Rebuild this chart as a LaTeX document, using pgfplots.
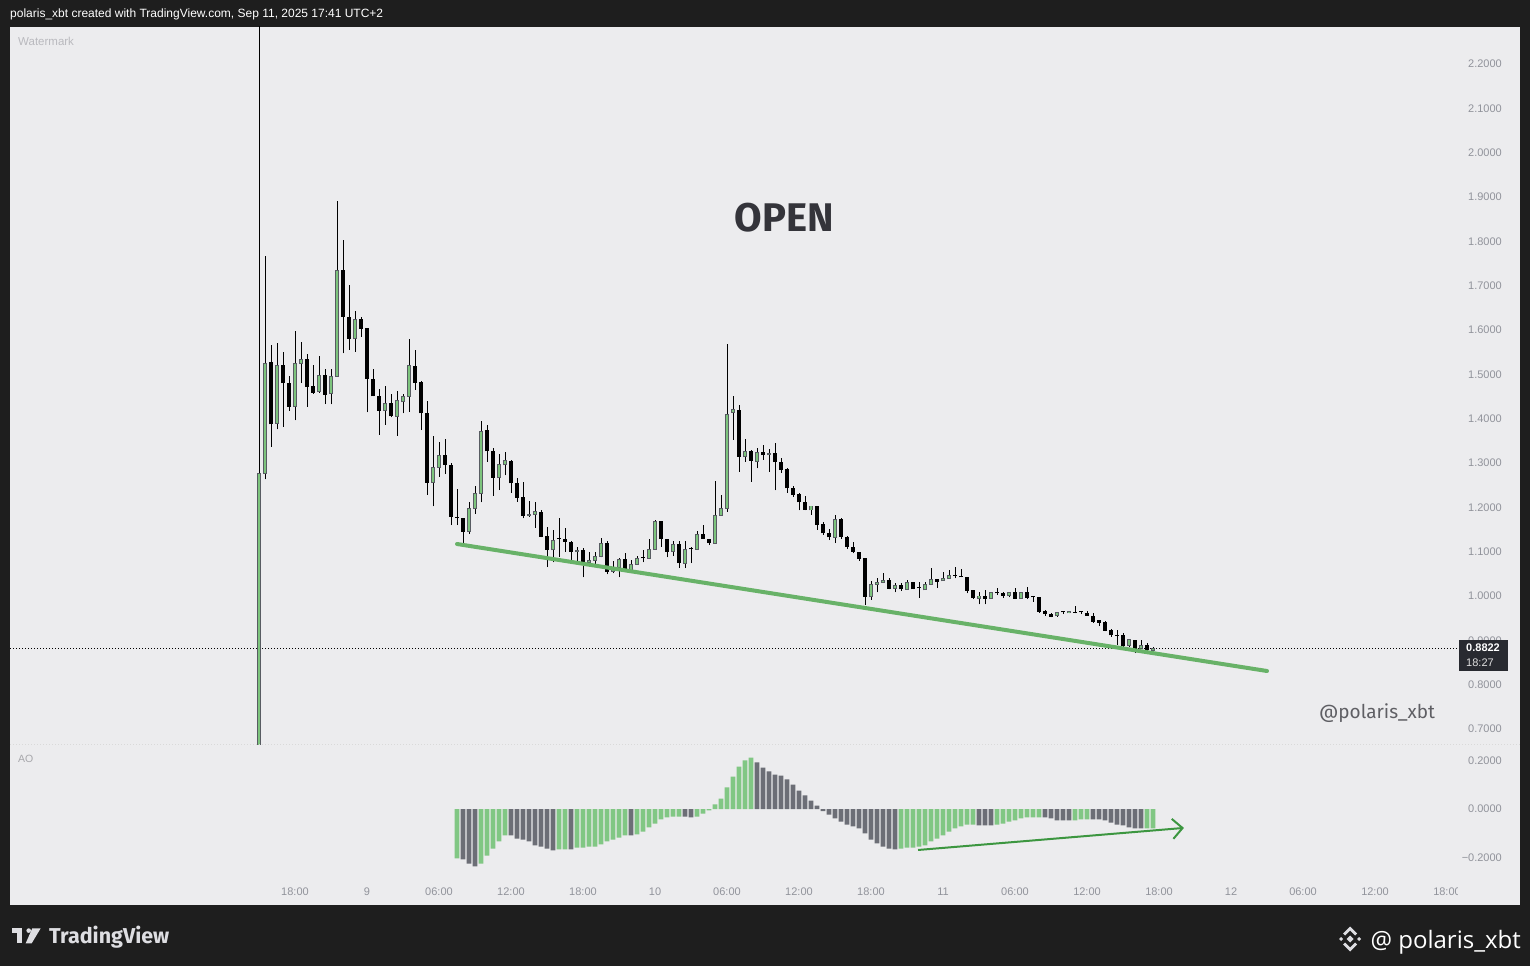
\documentclass[border=0pt]{standalone}
\usepackage{pgfplots}
\pgfplotsset{compat=1.18}
\usepackage{pgfplotstable}
\usetikzlibrary{arrows.meta}
\usepackage{fontspec}
\setmainfont{Liberation Sans}
\newfontfamily\fira{Fira Sans}
\newfontfamily\opens{Open Sans}
\definecolor{frame}{RGB}{30,30,30}
\definecolor{pane}{RGB}{236,236,238}
\definecolor{cgreen}{RGB}{125,196,125}
\definecolor{cborder}{RGB}{88,92,98}
\definecolor{aogreen}{RGB}{129,199,132}
\definecolor{aogrey}{RGB}{108,110,118}
\definecolor{trend}{RGB}{104,178,104}
\definecolor{arrowg}{RGB}{60,150,64}
\definecolor{ticktext}{RGB}{145,147,155}
\definecolor{boxc}{RGB}{40,42,48}
\definecolor{opentext}{RGB}{52,52,58}
\definecolor{handle}{RGB}{95,95,100}
\definecolor{wm}{RGB}{185,185,190}
\definecolor{logo}{RGB}{222,222,226}

\pgfplotstableread{
h O H L C
15.0 0.600 2.500 0.550 1.277
15.5 1.277 1.767 1.263 1.525
16.0 1.527 1.566 1.337 1.387
16.5 1.389 1.570 1.376 1.520
17.0 1.520 1.550 1.382 1.480
17.5 1.480 1.496 1.418 1.427
18.0 1.427 1.598 1.396 1.525
18.5 1.524 1.573 1.480 1.534
19.0 1.534 1.546 1.427 1.472
19.5 1.473 1.521 1.456 1.459
20.0 1.461 1.541 1.459 1.498
20.5 1.498 1.511 1.433 1.454
21.0 1.457 1.511 1.432 1.496
21.5 1.496 1.891 1.496 1.735
22.0 1.735 1.803 1.547 1.630
22.5 1.630 1.702 1.555 1.580
23.0 1.580 1.643 1.551 1.624
23.5 1.624 1.630 1.585 1.603
24.0 1.605 1.605 1.414 1.490
24.5 1.490 1.511 1.450 1.450
25.0 1.451 1.468 1.364 1.418
25.5 1.418 1.474 1.386 1.435
26.0 1.435 1.456 1.403 1.405
26.5 1.405 1.463 1.362 1.441
27.0 1.438 1.456 1.412 1.450
27.5 1.450 1.580 1.416 1.520
28.0 1.519 1.555 1.465 1.481
28.5 1.483 1.485 1.374 1.412
29.0 1.412 1.440 1.228 1.256
29.5 1.256 1.361 1.202 1.290
30.0 1.290 1.347 1.269 1.317
30.5 1.317 1.354 1.275 1.296
31.0 1.296 1.300 1.160 1.179
31.5 1.178 1.241 1.160 1.177
32.0 1.177 1.177 1.119 1.145
32.5 1.145 1.211 1.140 1.198
33.0 1.198 1.247 1.185 1.232
33.5 1.232 1.395 1.211 1.372
34.0 1.374 1.386 1.303 1.326
34.5 1.326 1.333 1.226 1.267
35.0 1.267 1.320 1.239 1.296
35.5 1.296 1.325 1.272 1.305
36.0 1.305 1.307 1.233 1.254
36.5 1.254 1.266 1.213 1.222
37.0 1.223 1.257 1.175 1.181
37.5 1.182 1.214 1.179 1.184
38.0 1.184 1.211 1.154 1.190
38.5 1.190 1.195 1.132 1.134
39.0 1.135 1.156 1.065 1.104
39.5 1.104 1.149 1.076 1.126
40.0 1.128 1.177 1.089 1.128
40.5 1.128 1.153 1.100 1.122
41.0 1.122 1.125 1.081 1.100
41.5 1.100 1.110 1.076 1.102
42.0 1.104 1.108 1.042 1.075
42.5 1.076 1.100 1.070 1.081
43.0 1.081 1.100 1.070 1.090
43.5 1.090 1.130 1.087 1.119
44.0 1.119 1.125 1.049 1.055
44.5 1.055 1.079 1.051 1.065
45.0 1.065 1.085 1.042 1.083
45.5 1.083 1.096 1.053 1.055
46.0 1.055 1.081 1.051 1.072
46.5 1.072 1.090 1.070 1.085
47.0 1.085 1.104 1.076 1.085
47.5 1.085 1.128 1.083 1.105
48.0 1.105 1.171 1.104 1.169
48.5 1.169 1.169 1.111 1.129
49.0 1.129 1.129 1.087 1.100
49.5 1.100 1.124 1.090 1.117
50.0 1.117 1.125 1.064 1.074
50.5 1.074 1.125 1.063 1.105
51.0 1.105 1.111 1.074 1.105
51.5 1.105 1.147 1.104 1.139
52.0 1.139 1.160 1.128 1.128
52.5 1.128 1.128 1.115 1.119
53.0 1.119 1.259 1.119 1.181
53.5 1.181 1.228 1.181 1.198
54.0 1.198 1.569 1.190 1.410
54.5 1.414 1.451 1.353 1.420
55.0 1.420 1.431 1.280 1.314
55.5 1.314 1.354 1.303 1.326
56.0 1.327 1.329 1.258 1.305
56.5 1.303 1.333 1.288 1.324
57.0 1.324 1.341 1.307 1.318
57.5 1.319 1.332 1.280 1.321
58.0 1.322 1.344 1.238 1.302
58.5 1.302 1.311 1.278 1.284
59.0 1.286 1.288 1.233 1.243
59.5 1.243 1.248 1.224 1.228
60.0 1.230 1.233 1.193 1.211
60.5 1.211 1.226 1.193 1.194
61.0 1.194 1.203 1.183 1.203
61.5 1.203 1.203 1.149 1.161
62.0 1.162 1.166 1.138 1.141
62.5 1.141 1.151 1.126 1.132
63.0 1.132 1.183 1.119 1.173
63.5 1.174 1.177 1.128 1.134
64.0 1.134 1.135 1.106 1.111
64.5 1.111 1.121 1.096 1.100
65.0 1.100 1.100 1.080 1.083
65.5 1.085 1.085 0.980 0.998
66.0 0.998 1.034 0.991 1.026
66.5 1.026 1.040 1.008 1.031
67.0 1.031 1.051 1.029 1.036
67.5 1.036 1.040 1.015 1.016
68.0 1.017 1.030 1.008 1.024
68.5 1.024 1.029 1.012 1.015
69.0 1.015 1.035 1.015 1.031
69.5 1.031 1.031 1.015 1.015
70.0 1.017 1.031 0.996 1.017
70.5 1.014 1.031 1.014 1.026
71.0 1.026 1.064 1.026 1.038
71.5 1.038 1.038 1.019 1.032
72.0 1.034 1.055 1.034 1.040
72.5 1.040 1.059 1.040 1.047
73.0 1.046 1.065 1.040 1.046
73.5 1.046 1.060 1.042 1.042
74.0 1.042 1.042 1.006 1.012
74.5 1.013 1.013 0.993 0.995
75.0 0.995 1.008 0.981 1.000
75.5 1.000 1.014 0.981 0.994
76.0 0.995 1.010 0.995 1.008
76.5 1.006 1.017 1.002 1.006
77.0 1.006 1.010 0.996 1.001
77.5 1.001 1.010 0.997 1.008
78.0 1.008 1.019 0.993 0.994
78.5 0.994 1.010 0.994 1.008
79.0 1.008 1.021 0.993 0.996
79.5 0.997 1.000 0.987 0.997
80.0 0.998 0.998 0.962 0.965
80.5 0.966 0.968 0.956 0.959
81.0 0.959 0.962 0.952 0.953
81.5 0.955 0.965 0.953 0.963
82.0 0.963 0.967 0.959 0.963
82.5 0.962 0.967 0.961 0.966
83.0 0.965 0.977 0.961 0.962
83.5 0.963 0.967 0.959 0.963
84.0 0.962 0.966 0.955 0.956
84.5 0.956 0.962 0.940 0.942
85.0 0.946 0.946 0.932 0.940
85.5 0.942 0.943 0.920 0.922
86.0 0.923 0.925 0.908 0.911
86.5 0.912 0.923 0.889 0.910
87.0 0.911 0.916 0.886 0.887
87.5 0.888 0.903 0.886 0.901
88.0 0.901 0.901 0.871 0.878
88.5 0.882 0.901 0.882 0.889
89.0 0.889 0.893 0.872 0.878
89.5 0.878 0.886 0.877 0.8822
}\candles

\pgfplotstableread{
h v c
31.5 -0.204 1
32.0 -0.208 0
32.5 -0.225 0
33.0 -0.237 0
33.5 -0.225 1
34.0 -0.192 1
34.5 -0.163 1
35.0 -0.134 1
35.5 -0.109 1
36.0 -0.109 0
36.5 -0.122 0
37.0 -0.126 0
37.5 -0.134 0
38.0 -0.150 0
38.5 -0.155 0
39.0 -0.163 0
39.5 -0.171 0
40.0 -0.167 1
40.5 -0.167 1
41.0 -0.167 0
41.5 -0.159 1
42.0 -0.159 1
42.5 -0.155 1
43.0 -0.155 1
43.5 -0.146 1
44.0 -0.134 1
44.5 -0.126 1
45.0 -0.118 1
45.5 -0.109 1
46.0 -0.109 0
46.5 -0.105 1
47.0 -0.093 1
47.5 -0.076 1
48.0 -0.060 1
48.5 -0.043 1
49.0 -0.035 1
49.5 -0.031 1
50.0 -0.031 1
50.5 -0.031 0
51.0 -0.035 0
51.5 -0.031 1
52.0 -0.019 1
52.5 -0.006 1
53.0 0.019 1
53.5 0.043 1
54.0 0.089 1
54.5 0.134 1
55.0 0.175 1
55.5 0.200 1
56.0 0.212 1
56.5 0.192 0
57.0 0.171 0
57.5 0.155 0
58.0 0.142 0
58.5 0.138 0
59.0 0.122 0
59.5 0.101 0
60.0 0.076 0
60.5 0.056 0
61.0 0.035 0
61.5 0.014 0
62.0 -0.009 0
62.5 -0.023 0
63.0 -0.039 0
63.5 -0.052 0
64.0 -0.064 0
64.5 -0.072 0
65.0 -0.080 0
65.5 -0.101 0
66.0 -0.126 0
66.5 -0.142 0
67.0 -0.155 0
67.5 -0.163 0
68.0 -0.167 0
68.5 -0.163 1
69.0 -0.159 1
69.5 -0.159 1
70.0 -0.155 1
70.5 -0.150 1
71.0 -0.134 1
71.5 -0.122 1
72.0 -0.109 1
72.5 -0.093 1
73.0 -0.080 1
73.5 -0.072 1
74.0 -0.064 1
74.5 -0.064 1
75.0 -0.068 0
75.5 -0.068 0
76.0 -0.068 0
76.5 -0.064 1
77.0 -0.060 1
77.5 -0.052 1
78.0 -0.047 1
78.5 -0.039 1
79.0 -0.035 1
79.5 -0.035 1
80.0 -0.035 1
80.5 -0.035 0
81.0 -0.039 0
81.5 -0.047 0
82.0 -0.047 0
82.5 -0.047 0
83.0 -0.047 1
83.5 -0.043 1
84.0 -0.043 1
84.5 -0.043 0
85.0 -0.043 0
85.5 -0.047 0
86.0 -0.056 0
86.5 -0.064 0
87.0 -0.068 0
87.5 -0.076 0
88.0 -0.080 0
88.5 -0.080 0
89.0 -0.080 1
89.5 -0.080 1
}\aodata

\begin{document}
\begin{tikzpicture}[x=1pt,y=1pt]
\useasboundingbox (0,0) rectangle (1530,966);
\fill[frame] (0,0) rectangle (1530,966);
\fill[pane] (10,61) rectangle (1520,939);

% price pane
\begin{axis}[
  at={(10pt,221pt)}, anchor=south west,
  width=1448pt, height=718pt, scale only axis,
  xmin=-5.75, xmax=114.9167, ymin=0.6639, ymax=2.2835,
  axis line style={draw=none}, tick style={draw=none},
  xtick=\empty,
  ytick={0.7,0.8,...,2.2},
  yticklabel pos=right,
  yticklabel style={anchor=east, inner sep=0pt, xshift=44pt, font=\fontsize{11}{13}\selectfont, text=ticktext},
  /pgf/number format/fixed, /pgf/number format/fixed zerofill,
  /pgf/number format/precision=4, /pgf/number format/assume math mode=true,
  clip=true,
]
% dotted last price line
\addplot[black, line width=0.9pt, dash pattern=on 1pt off 2pt] coordinates {(-5.75,0.8822) (114.9,0.8822)};
% wicks
\addplot[black, line width=1pt, quiver={u=0, v=\thisrow{H}-\thisrow{L}}] table[x=h, y=L] {\candles};
% black bodies
\addplot[black, line width=4.4pt, quiver={u=0, v={max(abs(\thisrow{C}-\thisrow{O}),0.0023)}},
  restrict expr to domain={\thisrow{C}-\thisrow{O}}{-10:0}]
  table[x=h, y expr={min(\thisrow{O},\thisrow{C})}] {\candles};
% green bodies: outline then fill
\addplot[cborder, line width=4.4pt, quiver={u=0, v={abs(\thisrow{C}-\thisrow{O})+0.0022}},
  restrict expr to domain={\thisrow{C}-\thisrow{O}}{0.00001:10}]
  table[x=h, y expr={min(\thisrow{O},\thisrow{C})-0.0011}] {\candles};
\addplot[cgreen, line width=2.4pt, quiver={u=0, v={max(abs(\thisrow{C}-\thisrow{O})-0.0022,0.00001)}},
  restrict expr to domain={\thisrow{C}-\thisrow{O}}{0.00001:10}]
  table[x=h, y expr={min(\thisrow{O},\thisrow{C})+0.0011}] {\candles};
% trendline
\addplot[trend, line width=4pt, line cap=round] coordinates {(31.5,1.1173) (99.0,0.8308)};
\end{axis}

% AO pane
\begin{axis}[
  at={(10pt,89pt)}, anchor=south west,
  width=1448pt, height=132pt, scale only axis,
  xmin=-5.75, xmax=114.9167, ymin=-0.2804, ymax=0.2639,
  axis line style={draw=none}, tick style={draw=none},
  xtick={18,24,30,36,42,48,54,60,66,72,78,84,90,96,102,108,114},
  xticklabels={18:00,9,06:00,12:00,18:00,10,06:00,12:00,18:00,11,06:00,12:00,18:00,12,06:00,12:00,18:00},
  xticklabel style={anchor=center, inner sep=0pt, yshift=-14.5pt, font=\fontsize{11}{13}\selectfont, text=ticktext},
  ytick={-0.2,0,0.2},
  yticklabels={−0.2000,0.0000,0.2000},
  yticklabel pos=right,
  yticklabel style={anchor=east, inner sep=0pt, xshift=44pt, font=\fontsize{11}{13}\selectfont, text=ticktext},
  clip=true,
]
\addplot[ybar, bar width=4.8pt, bar shift=0pt, fill=aogreen, draw=none,
  restrict expr to domain={\thisrow{c}}{0.5:1.5}] table[x=h, y=v] {\aodata};
\addplot[ybar, bar width=4.8pt, bar shift=0pt, fill=aogrey, draw=none,
  restrict expr to domain={\thisrow{c}}{-0.5:0.5}] table[x=h, y=v] {\aodata};
\addplot[arrowg, line width=2pt, -{Straight Barb[length=10pt,width=20pt,line width=2pt]}]
  coordinates {(69.92,-0.169) (92.08,-0.078)};
\end{axis}

% clip of last time label
\fill[pane] (1457.5,65) rectangle (1464,85);
% pane separator
\draw[black!15, line width=0.8pt, dash pattern=on 1pt off 2pt] (10,221.5) -- (1520,221.5);

% last price label
\fill[boxc] (1459,295) rectangle (1508,326);
\node[anchor=west, inner sep=0pt, text=white, font=\bfseries\fontsize{11}{13}\selectfont] at (1466,318) {0.8822};
\node[anchor=west, inner sep=0pt, text=white!88!black, font=\fontsize{11}{13}\selectfont] at (1466,303.5) {18:27};

% texts
\node[anchor=west, inner sep=0pt, text=white, font=\fontsize{12}{14}\selectfont] at (10,952) {polaris\_xbt created with TradingView.com, Sep 11, 2025 17:41 UTC+2};
\node[anchor=west, inner sep=0pt, text=wm, font=\fontsize{11.5}{13}\selectfont] at (18,925) {Watermark};
\node[anchor=west, inner sep=0pt, text=wm!90!black, font=\fontsize{10.5}{12}\selectfont] at (18,207) {AO};
\node[text=opentext, font=\fira\bfseries\fontsize{40}{44}\selectfont] at (784.5,748) {OPEN};
\node[text=handle, font=\fira\fontsize{19}{22}\selectfont] at (1377,253) {@polaris\_xbt};

% TradingView logo
\fill[logo] (12.3,37.7) rectangle (22.3,32.7);
\fill[logo] (17.3,33) rectangle (22.3,23);
\fill[logo] (28.7,35.4) circle (2.3);
\fill[logo] (32.3,37.7) -- (40.7,37.7) -- (31.7,22.7) -- (25.7,22.7) -- cycle;
\node[anchor=base west, inner sep=0pt, text=logo, font=\fira\bfseries\fontsize{21.5}{25}\selectfont] at (49,23) {TradingView};

% binance-like icon and handle
\begin{scope}[shift={(1350,27)}]
\fill[logo] (0,3.5)--(3.5,0)--(0,-3.5)--(-3.5,0)--cycle;
\fill[logo] (-9,2)--(-7,0)--(-9,-2)--(-11,0)--cycle;
\fill[logo] (9,2)--(11,0)--(9,-2)--(7,0)--cycle;
\fill[logo] (0,12.5)--(7,5.5)--(5,3.5)--(0,8.5)--(-5,3.5)--(-7,5.5)--cycle;
\fill[logo] (0,-12.5)--(7,-5.5)--(5,-3.5)--(0,-8.5)--(-5,-3.5)--(-7,-5.5)--cycle;
\end{scope}
\node[anchor=base east, inner sep=0pt, text=white, font=\opens\fontsize{24}{28}\selectfont] at (1521,17.7) {@ polaris\_xbt};
\end{tikzpicture}
\end{document}
